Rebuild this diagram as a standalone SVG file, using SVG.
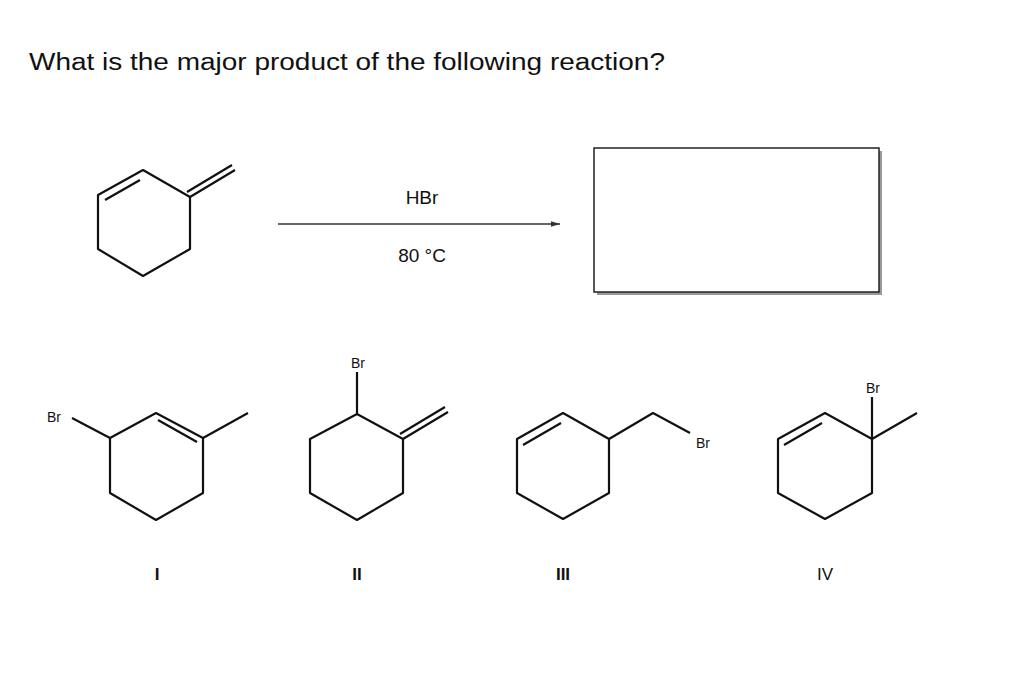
<svg xmlns="http://www.w3.org/2000/svg" width="1024" height="685" viewBox="0 0 1024 685">
<style>
.b{stroke:#111;stroke-width:2.2;fill:none;stroke-linejoin:round}
.t{font-family:"Liberation Sans",Arial,sans-serif;fill:#111}
.s{font-size:14px}
</style>
<defs><marker id="ah" viewBox="0 0 10 10" refX="10" refY="5" markerWidth="8" markerHeight="6" orient="auto"><path d="M0,2 L10,5 L0,8z" fill="#333"/></marker></defs>
<rect width="1024" height="685" fill="#fff"/>
<text class="t" x="29" y="70" font-size="23" textLength="636" lengthAdjust="spacingAndGlyphs">What is the major product of the following reaction?</text>
<g id="start">
<path class="b" d="M143,170 L98,195 L98,249 L143,276 L190,249 L190,197 Z"/>
<path class="b" d="M105,200 L140,180"/>
<path class="b" d="M190,197 L235,170 M187,192 L232,165"/>
</g>
<g id="connectors">
<line x1="278" y1="224" x2="560" y2="224" stroke="#333" stroke-width="1.5" marker-end="url(#ah)"/>
</g>
<text class="t" x="422" y="204" font-size="19" text-anchor="middle">HBr</text>
<text class="t" x="422" y="262" font-size="19" text-anchor="middle">80 °C</text>
<g id="box">
<rect x="597" y="151" width="285" height="144" fill="#999"/>
<rect x="594" y="148" width="285" height="144" fill="#fff" stroke="#222" stroke-width="1.5"/>
</g>
<g id="I">
<path class="b" d="M156,413 L110,438 L110,493 L156,520 L203,493 L203,438 Z"/>
<path class="b" d="M158,420 L197,442"/>
<path class="b" d="M203,438 L248,413 M110,438 L72,418"/>
<text class="t s" x="47" y="422">Br</text>
<text class="t" x="157" y="580" font-size="17" font-weight="bold" text-anchor="middle">I</text>
</g>
<g id="II">
<path class="b" d="M357,414 L357,372 M357,414 L310,439 L310,493 L357,520 L403,493 L403,439 Z"/>
<path class="b" d="M403,439 L448,412 M400,434 L445,407"/>
<text class="t s" x="358" y="368" text-anchor="middle">Br</text>
<text class="t" x="357" y="580" font-size="17" font-weight="bold" text-anchor="middle">II</text>
</g>
<g id="III">
<path class="b" d="M563,413 L517,439 L517,493 L563,519 L609,493 L609,439 Z"/>
<path class="b" d="M523,445 L561,423"/>
<path class="b" d="M609,439 L653,413 L690,433"/>
<text class="t s" x="696" y="448">Br</text>
<text class="t" x="563" y="580" font-size="17" font-weight="bold" text-anchor="middle">III</text>
</g>
<g id="IV">
<path class="b" d="M825,413 L778,439 L778,493 L825,519 L872,493 L872,439 Z"/>
<path class="b" d="M784,445 L822,423"/>
<path class="b" d="M872,439 L872,397 M872,439 L917,413"/>
<text class="t s" x="873" y="393" text-anchor="middle">Br</text>
<text class="t" x="825" y="580" font-size="17" text-anchor="middle">IV</text>
</g>
</svg>
